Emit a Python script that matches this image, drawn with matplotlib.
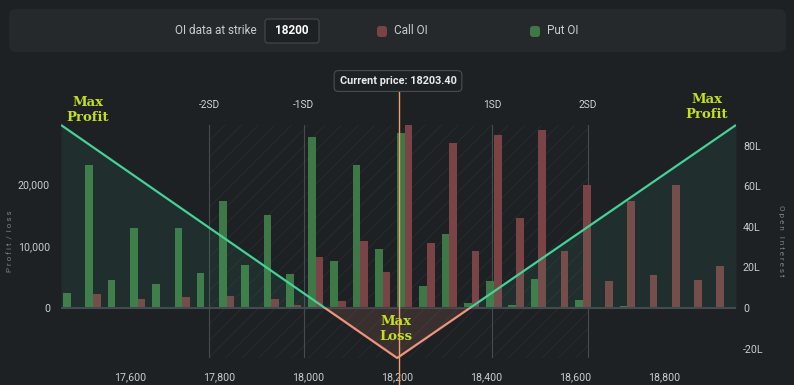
import matplotlib
matplotlib.use("Agg")
import matplotlib.pyplot as plt
from matplotlib.patches import Rectangle, FancyBboxPatch
from matplotlib.ticker import FuncFormatter
import numpy as np

# option chain open interest (in lakhs)
strikes = [17450, 17500, 17550, 17600, 17650, 17700, 17750, 17800, 17850, 17900,
           17950, 18000, 18050, 18100, 18150, 18200, 18250, 18300, 18350, 18400,
           18450, 18500, 18550, 18600, 18650, 18700, 18750, 18800, 18850, 18900]
put_oi = [7.4, 70.6, 13.6, 39.6, 12.0, 39.2, 17.4, 52.5, 21.0, 46.0,
          16.9, 84.2, 23.3, 70.3, 29.2, 86.2, 10.7, 36.6, 2.6, 13.5,
          1.6, 14.4, 0.3, 3.8, 0.2, 1.0, 0.2, 0.7, 0.2, 0.2]
call_oi = [0.2, 6.7, 0.3, 4.6, 0.3, 5.6, 0.5, 6.1, 0.3, 4.4,
           1.3, 25.3, 3.6, 32.8, 17.9, 90.0, 32.2, 81.4, 28.2, 85.0,
           44.3, 87.8, 28.1, 60.8, 13.5, 52.5, 16.1, 60.4, 14.0, 20.5]

# payoff of the strategy
pl_spot = [17445, 18200, 18961]
pl_value = [29516, -8065, 29516]

current_price = 18203.40
selected_strike = 18200
sd_levels = [17778, 17990, 18413, 18629]
sd_labels = ["-2SD", "-1SD", "1SD", "2SD"]

pl_ticks = [0, 10000, 20000]
oi_ticks = [-20, 0, 20, 40, 60, 80]
x_ticks = [17600, 17800, 18000, 18200, 18400, 18600, 18800]

BG = "#1e2124"
PANEL = "#26292c"
TXT = "#c9ccce"
GREEN_BAR = "#3e7846"
RED_BAR = "#7a4346"
PROFIT = "#44d298"
LOSS = "#f0937b"
ANNOT = "#c3df1d"

plt.rcParams["font.family"] = ["Roboto", "DejaVu Sans"]
plt.rcParams["hatch.linewidth"] = 0.6

W, H = 794, 385
fig = plt.figure(figsize=(W / 100, H / 100), dpi=100, facecolor=BG)


def fx(px):
    return px / W


def fy(py):
    return 1 - py / H


# top panel
inch = fig.dpi_scale_trans
panel = FancyBboxPatch((9 / 100, (H - 52) / 100), 777 / 100, 43 / 100,
                       boxstyle="round,pad=0,rounding_size=0.07",
                       transform=inch, facecolor=PANEL, edgecolor="none")
fig.patches.append(panel)
fig.text(fx(257), fy(31), "OI data at strike", ha="right", va="center",
         color=TXT, fontsize=8.5)
box = FancyBboxPatch((265 / 100, (H - 43) / 100), 54 / 100, 24 / 100,
                     boxstyle="round,pad=0,rounding_size=0.03", transform=inch,
                     facecolor=BG, edgecolor="#45494d", lw=0.8)
fig.patches.append(box)
fig.text(fx(292), fy(31), str(selected_strike), ha="center", va="center",
         color="white", fontsize=8.5, fontweight="bold")
for px, col, lab in [(377, RED_BAR, "Call OI"), (530, GREEN_BAR, "Put OI")]:
    m = FancyBboxPatch((px / 100, (H - 37) / 100), 10 / 100, 11 / 100,
                       boxstyle="round,pad=0,rounding_size=0.03", transform=inch,
                       facecolor=col, edgecolor="none")
    fig.patches.append(m)
    fig.text(fx(px + 17), fy(31), lab, ha="left", va="center", color=TXT, fontsize=8.5)

# axes: OI bars underneath, P/L on top
ax = fig.add_axes([fx(61), fy(358), fx(736 - 61), (358 - 125) / H])
ax.set_facecolor(BG)
ax.set_xlim(pl_spot[0], pl_spot[-1])
ax.set_ylim(-24.6, 90.1)

ax.axvspan(sd_levels[0], sd_levels[-1], facecolor="none", hatch="//",
           edgecolor="#292c30", linewidth=0, zorder=0)
for lvl, lab in zip(sd_levels, sd_labels):
    ax.axvline(lvl, color="#464b50", lw=0.8, zorder=0.5)
    ax.text(lvl, 1.085, lab, transform=ax.get_xaxis_transform(), ha="center",
            va="center", color="#d2d4d6", fontsize=7.3)

bar_w = 17.2
ax.bar(strikes, put_oi, width=bar_w, align="edge", color=GREEN_BAR, zorder=2)
ax.bar(np.array(strikes) + bar_w, call_oi, width=bar_w, align="edge",
       color=RED_BAR, zorder=2)
ax.axhline(0, color="#3d4247", lw=1.5, zorder=3)

ax.set_xticks(x_ticks)
ax.xaxis.set_major_formatter(FuncFormatter(lambda v, p: f"{v:,.0f}"))
for s in ax.spines.values():
    s.set_visible(False)

pl = ax.twinx()
pl.set_ylim(pl_value[1], max(pl_value))
for s in pl.spines.values():
    s.set_visible(False)

# OI ticks on the right, P/L ticks on the left
ax.yaxis.tick_right()
ax.set_yticks(oi_ticks)
ax.yaxis.set_major_formatter(FuncFormatter(lambda v, p: "0" if v == 0 else f"{v:.0f}L"))
ax.tick_params(axis="both", length=0, colors=TXT, labelsize=7.7)
ax.tick_params(axis="x", pad=10)
ax.tick_params(axis="y", pad=5)
pl.yaxis.tick_left()
pl.set_yticks(pl_ticks)
pl.yaxis.set_major_formatter(FuncFormatter(lambda v, p: f"{v:,.0f}"))
pl.tick_params(axis="y", length=0, colors=TXT, labelsize=7.7, pad=8)

span = pl_spot[-1] - pl_spot[0]
above = Rectangle((pl_spot[0], 0), span, 1e6, transform=pl.transData)
below = Rectangle((pl_spot[0], -1e6), span, 1e6, transform=pl.transData)

f1 = pl.fill_between(pl_spot, pl_value, 0, color=PROFIT, alpha=0.08, lw=0)
f1.set_clip_path(above)
f2 = pl.fill_between(pl_spot, pl_value, 0, color=LOSS, alpha=0.13, lw=0)
f2.set_clip_path(below)
l1, = pl.plot(pl_spot, pl_value, color=PROFIT, lw=1.6, solid_capstyle="butt")
l1.set_clip_path(above)
l2, = pl.plot(pl_spot, pl_value, color=LOSS, lw=1.6, solid_capstyle="butt")
l2.set_clip_path(below)

# current price marker
pl.axvline(current_price, ymin=-0.116, ymax=1.142, color="#f0a06c", lw=1,
           clip_on=False, zorder=5)
fig.text(fx(398), fy(81), f"Current price: {current_price:.2f}", ha="center",
         va="center", color="#e8eaec", fontsize=7.8, fontweight="bold",
         bbox=dict(boxstyle="round,pad=0.5,rounding_size=0.4", facecolor=BG,
                   edgecolor="#4a4e52", lw=0.8))

# annotations
serif = dict(family="DejaVu Serif", fontweight="bold", fontsize=9.5,
             color=ANNOT, ha="center", va="center", linespacing=1.25)
fig.text(fx(88), fy(110), "Max\nProfit", **serif)
fig.text(fx(707), fy(107), "Max\nProfit", **serif)
fig.text(fx(396), fy(329), "Max\nLoss", **serif)

fig.text(fx(10), fy(241), "P r o f i t  /  l o s s", rotation=90, ha="center",
         va="center", color="#7d8185", fontsize=5.8)
fig.text(fx(781), fy(241), "O p e n   I n t e r e s t", rotation=-90, ha="center",
         va="center", color="#7d8185", fontsize=5.8)

fig.savefig("out.png", dpi=100, facecolor=BG)
